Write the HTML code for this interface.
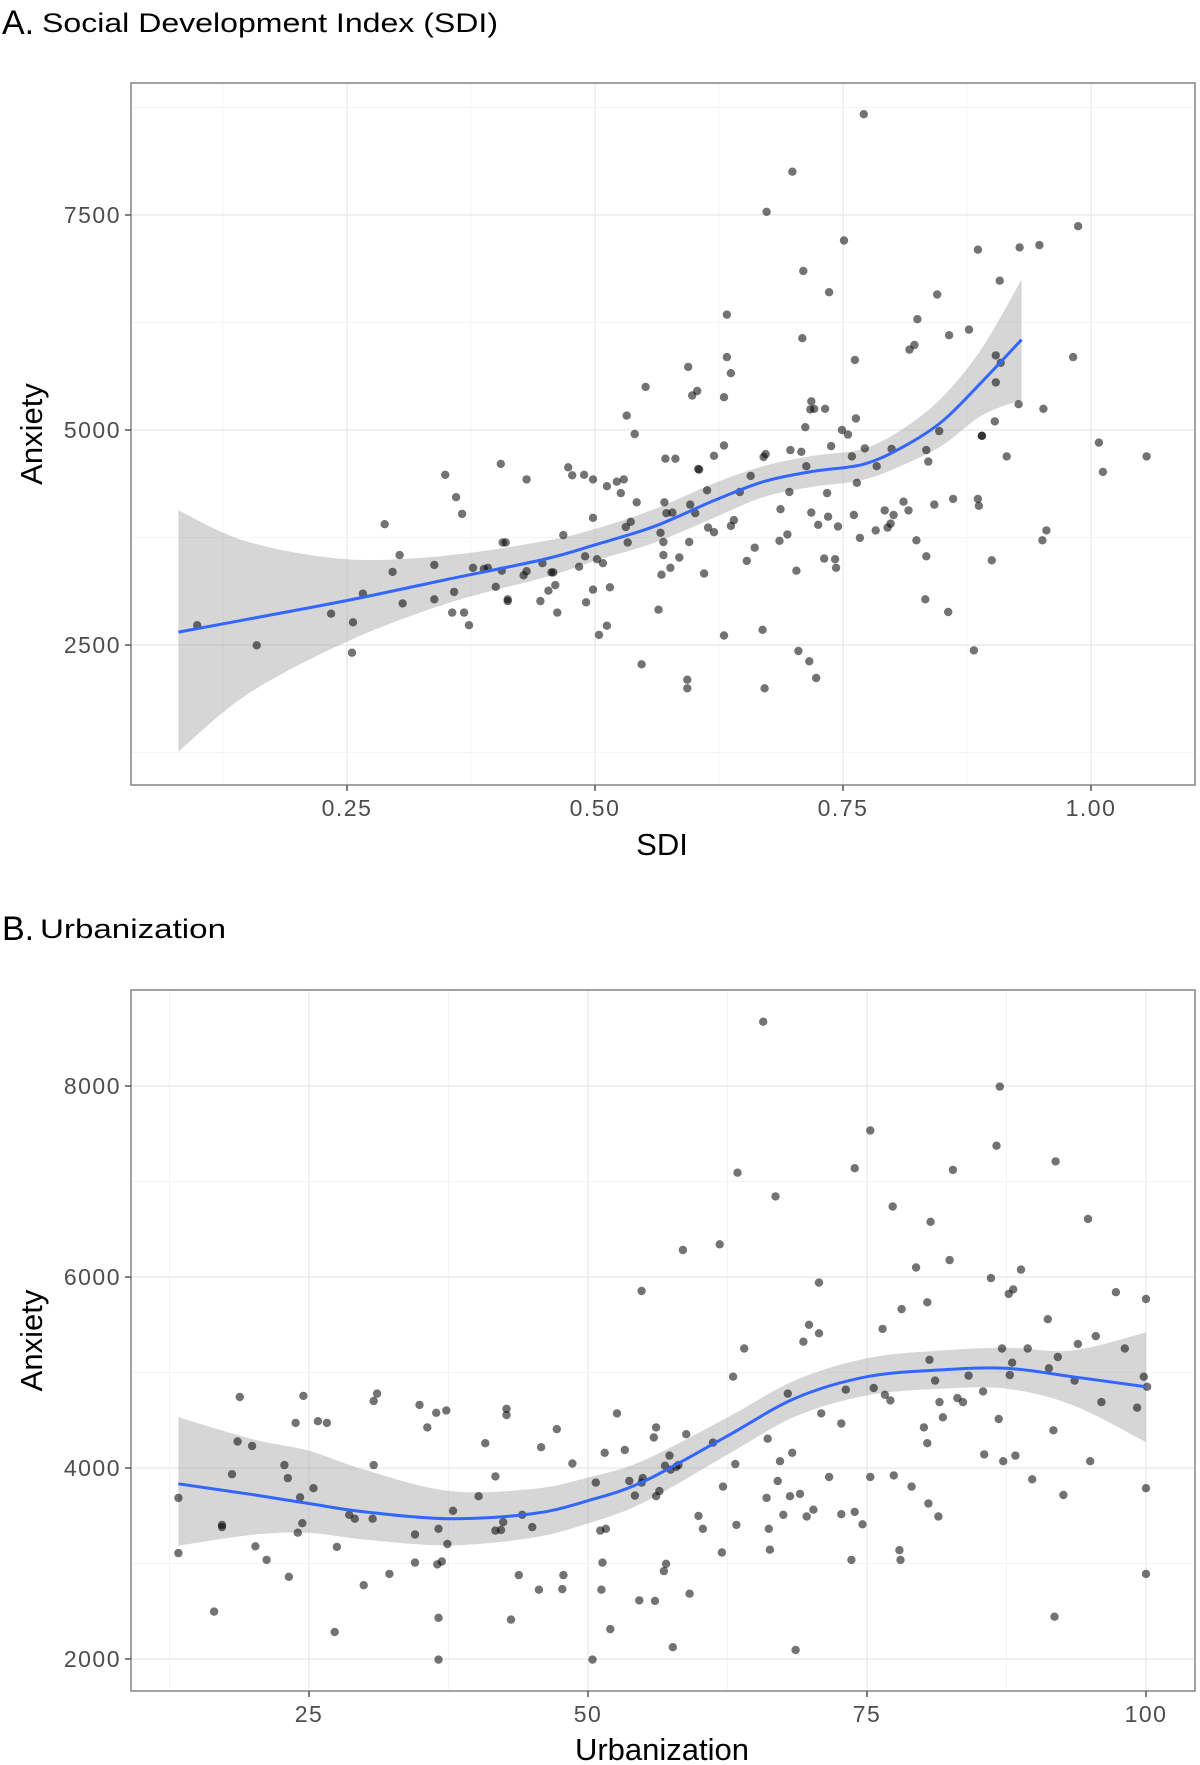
<!DOCTYPE html>
<html><head><meta charset="utf-8"><style>
html,body{margin:0;padding:0;background:#fff;}
svg{display:block;font-family:"Liberation Sans",sans-serif;}
</style></head><body>
<svg id="fig" width="1200" height="1765" viewBox="0 0 1200 1765">
<text x="2" y="34" font-size="34" fill="#000">A.</text>
<text x="42" y="32" font-size="27" fill="#000" textLength="456" lengthAdjust="spacingAndGlyphs">Social Development Index (SDI)</text>
<text x="2" y="940" font-size="34" fill="#000">B.</text>
<text x="40" y="938" font-size="27" fill="#000" textLength="186" lengthAdjust="spacingAndGlyphs">Urbanization</text>
<g id="pa"></g>
<g id="pb"></g>
</svg>
<script>
const sdiX=[0.099,0.159,0.234,0.255,0.256,0.266,0.288,0.296,0.303,0.306,0.338,0.338,0.349,0.356,0.358,0.360,0.366,0.368,0.373,0.377,0.388,0.392,0.400,0.405,0.406,0.407,0.410,0.412,0.412,0.428,0.431,0.431,0.445,0.447,0.453,0.456,0.458,0.460,0.462,0.468,0.473,0.477,0.484,0.489,0.490,0.491,0.498,0.498,0.498,0.502,0.504,0.508,0.512,0.512,0.515,0.522,0.526,0.529,0.531,0.532,0.533,0.536,0.540,0.542,0.547,0.551,0.564,0.566,0.567,0.569,0.569,0.570,0.571,0.572,0.576,0.578,0.581,0.585,0.593,0.593,0.594,0.595,0.596,0.598,0.601,0.603,0.604,0.605,0.610,0.613,0.614,0.620,0.620,0.630,0.630,0.630,0.633,0.633,0.637,0.637,0.640,0.646,0.653,0.657,0.661,0.669,0.670,0.671,0.672,0.673,0.686,0.687,0.694,0.696,0.697,0.699,0.703,0.705,0.708,0.709,0.710,0.712,0.713,0.716,0.717,0.718,0.718,0.721,0.723,0.725,0.731,0.732,0.734,0.735,0.736,0.738,0.742,0.743,0.745,0.749,0.751,0.755,0.759,0.761,0.762,0.763,0.764,0.767,0.771,0.772,0.783,0.784,0.792,0.795,0.798,0.799,0.801,0.811,0.816,0.817,0.822,0.825,0.824,0.833,0.834,0.834,0.836,0.842,0.845,0.847,0.856,0.857,0.861,0.877,0.882,0.886,0.886,0.887,0.890,0.890,0.900,0.903,0.904,0.904,0.908,0.909,0.915,0.927,0.928,0.948,0.951,0.952,0.955,0.982,0.987,1.008,1.012,1.056];
const sdiY=[2730,2497,2864,2410,2764,3097,3905,3350,3545,2984,3431,3031,4479,2877,3117,4219,4025,2877,2730,3398,3384,3398,3177,4606,3364,3692,3692,3011,3031,3311,3358,4426,3011,3451,3131,3344,3344,3197,2877,3778,4566,4473,3411,4479,3531,2997,4426,3979,3144,3498,2617,3451,4346,2724,3171,4399,4266,4426,3872,5167,3692,3932,4953,4159,2276,5501,2910,3805,3318,3545,3698,4159,4666,4032,3398,4039,4666,3518,2096,1996,5734,3698,4132,5401,4032,5454,4546,4539,3331,4299,3865,3812,4700,2610,5381,4820,5848,6342,3885,5661,3952,4279,3478,4466,3631,2677,4686,1996,4720,7537,3712,4079,3785,4279,4766,8004,3364,2430,4746,6068,6849,5033,4579,2310,5240,4039,5334,5247,2116,3898,3505,5247,4266,3992,6602,4813,3498,3398,3878,5000,7203,4947,4693,4012,5814,5134,4386,3745,8672,4786,3832,4579,4065,3865,3912,4780,4012,4166,4065,5935,5988,6288,3718,3031,4766,3531,4633,4132,6576,4987,2884,6102,4199,6168,2437,7096,4199,4119,4933,4933,3485,5100,5554,5868,6736,5781,4693,5300,7123,7150,3718,5247,3832,5848,7370,4853,4513,4693];
const sdiFitX=[0.08,0.15,0.25,0.35,0.45,0.5,0.56,0.62,0.67,0.72,0.77,0.81,0.85,0.89,0.93];
const sdiFit=[2650,2800,3017,3260,3500,3665,3880,4180,4400,4520,4600,4800,5100,5560,6050];
const sdiHi=[4065,3700,3498,3540,3710,3850,4080,4380,4580,4700,4780,5010,5380,5950,6750];
const sdiLo=[1261,1930,2540,2980,3290,3480,3690,3980,4220,4340,4420,4590,4820,5170,5350];
const sdiXTicks=[0.25,0.50,0.75,1.00];
const sdiXTickLabels=["0.25","0.50","0.75","1.00"];
const sdiYTicks=[2500,5000,7500];
const sdiYTickLabels=["2500","5000","7500"];

const urbX=[13.3,13.3,16.5,17.2,17.2,18.1,18.6,18.8,19.9,20.2,21.2,22.8,23.1,23.2,23.8,24.0,24.2,24.4,24.5,25.4,25.8,26.6,27.3,27.5,28.6,29.1,29.9,30.7,30.8,30.8,31.1,32.2,34.5,34.5,34.9,35.6,36.4,36.6,36.5,36.6,36.6,36.9,37.3,37.4,37.9,40.2,40.8,41.7,41.7,42.2,42.4,42.7,42.7,43.1,43.8,44.1,45.0,45.6,45.8,47.2,47.7,47.8,48.6,50.4,50.7,51.1,51.2,51.3,51.5,51.6,52.0,52.6,53.3,53.7,54.2,54.6,54.8,54.8,54.9,55.9,56.0,56.1,56.1,56.4,56.8,56.9,57.0,57.3,57.4,57.6,57.9,58.1,58.5,58.8,59.1,59.9,60.3,61.2,61.8,62.0,62.1,63.0,63.2,63.3,63.4,64.0,66.0,66.1,66.2,66.3,65.7,66.8,67.0,67.2,67.5,67.9,68.1,68.3,68.6,69.0,69.3,69.6,69.8,70.2,70.7,70.7,70.9,71.6,72.7,72.7,73.1,73.6,73.9,73.9,74.6,75.3,75.3,75.6,76.4,76.6,77.1,77.3,77.4,77.9,78.0,78.1,79.0,79.4,80.1,80.4,80.4,80.5,80.6,80.7,81.1,81.4,81.5,81.8,82.4,82.7,83.1,83.6,84.1,85.4,85.5,86.1,86.6,86.8,86.9,87.1,87.2,87.7,87.8,88.0,88.1,88.3,88.8,89.4,89.8,91.2,91.3,91.7,91.8,91.9,92.1,92.6,93.6,93.9,94.8,95.0,95.5,96.0,97.3,98.1,99.2,99.8,100,100,100,100.1];
const urbY=[3687,3109,2496,3404,3381,3935,4277,4743,4230,3180,3038,4030,3894,2861,4472,3322,3693,3422,4755,3788,4490,4472,2283,3174,3510,3469,2773,3469,4030,4702,4779,2891,3304,3009,4661,4425,4578,3363,2991,2431,1994,3021,4602,3204,3552,3705,4260,3345,3912,3351,3434,4620,4555,2413,2879,3510,3381,2726,4218,4407,2732,2879,4047,1994,3847,3345,2726,3009,4159,3363,2313,4572,4189,3864,3711,2614,3847,5853,3894,4319,2608,4425,3705,3758,2920,4024,2997,4130,3982,2124,4012,4030,6283,4354,2684,3498,3363,4266,6342,3115,3805,4956,4041,3404,7092,5251,3687,4307,3363,3145,8673,6844,3864,4071,3510,4779,3705,4159,2094,3729,5322,3492,5499,3563,5410,5941,4572,3906,4466,3516,4820,3038,7139,3540,3410,7534,3906,4838,5457,4767,4708,6738,3923,3139,3038,5664,3805,6100,4425,5735,4260,3628,5133,6578,4915,3492,4690,4531,6177,7121,4732,4690,4968,4802,4142,5988,7375,4513,7994,5251,4071,5823,4974,5103,5870,4130,6077,5251,3882,5558,5044,4395,2443,7210,5162,3717,4915,5298,6608,4071,5381,4690,5841,5251,4631,4956,5770,3788,2891,4850];
const urbFitX=[13.3,20,25,30,37.5,45,50,55,62.5,68.6,75,81.6,87.5,93.4,100];
const urbFit=[3835,3720,3628,3540,3469,3520,3658,3860,4336,4732,4956,5027,5044,4956,4850];
const urbHi=[4531,4300,4180,3980,3760,3780,3900,4080,4530,4920,5150,5230,5260,5230,5420];
const urbLo=[3186,3300,3320,3250,3190,3270,3420,3640,4140,4540,4760,4830,4830,4660,4270];
const urbXTicks=[25,50,75,100];
const urbXTickLabels=["25","50","75","100"];
const urbYTicks=[2000,4000,6000,8000];
const urbYTickLabels=["2000","4000","6000","8000"];

const NS="http://www.w3.org/2000/svg";
function mk(parent,tag,attrs){const e=document.createElementNS(NS,tag);for(const k in attrs)e.setAttribute(k,attrs[k]);parent.appendChild(e);return e;}
function curve(pts,start){
  let d=(start?'M':'L')+pts[0][0].toFixed(1)+','+pts[0][1].toFixed(1);
  for(let i=0;i<pts.length-1;i++){const p0=pts[Math.max(0,i-1)],p1=pts[i],p2=pts[i+1],p3=pts[Math.min(pts.length-1,i+2)];
    d+='C'+(p1[0]+(p2[0]-p0[0])/6).toFixed(1)+','+(p1[1]+(p2[1]-p0[1])/6).toFixed(1)+' '+(p2[0]-(p3[0]-p1[0])/6).toFixed(1)+','+(p2[1]-(p3[1]-p1[1])/6).toFixed(1)+' '+p2[0].toFixed(1)+','+p2[1].toFixed(1);}
  return d;
}

function drawPanel(g,cfg){
  const L=131,R=1195,T=cfg.top,B=cfg.bottom;
  const sx=v=>cfg.px0+(v-cfg.vx0)*(cfg.px1-cfg.px0)/(cfg.vx1-cfg.vx0);
  const sy=v=>cfg.py0+(v-cfg.vy0)*(cfg.py1-cfg.py0)/(cfg.vy1-cfg.vy0);
  const bg=mk(g,'rect',{x:L,y:T,width:R-L,height:B-T,fill:'#fff'});
  
  
  const gx=cfg.xTicks, gy=cfg.yTicks;
  const dx=gx[1]-gx[0], dy=gy[1]-gy[0];
  for(let v=gx[0]-dx/2; ;v+=dx/2){const p=sx(v); if(p>R)break; if(p<L)continue;
    const major=Math.abs(((v-gx[0])/dx)-Math.round((v-gx[0])/dx))<1e-6;
    const ln=mk(g,'line',{x1:p,x2:p,y1:T,y2:B,stroke:major?'#ebebeb':'#f4f4f4','stroke-width':major?1.4:1});
    
    }
  for(let v=gy[0]-dy/2; ;v+=dy/2){const p=sy(v); if(p<T)break; if(p>B)continue;
    const major=Math.abs(((v-gy[0])/dy)-Math.round((v-gy[0])/dy))<1e-6;
    const ln=mk(g,'line',{x1:L,x2:R,y1:p,y2:p,stroke:major?'#ebebeb':'#f4f4f4','stroke-width':major?1.4:1});
    
    }
  const hiPts=cfg.fitX.map((x,i)=>[sx(x),sy(cfg.hi[i])]);
  const loPts=cfg.fitX.map((x,i)=>[sx(x),sy(cfg.lo[i])]).reverse();
  const band=mk(g,'path',{d:curve(hiPts,true)+curve(loPts,false)+'Z',fill:'#999','fill-opacity':0.4});
  
  
  cfg.x.forEach((x,i)=>{
    const c=mk(g,'circle',{cx:sx(x).toFixed(1),cy:sy(cfg.y[i]).toFixed(1),r:4.2,fill:'#000','fill-opacity':0.55});
    
    
  });
  const pts=cfg.fitX.map((x,i)=>[sx(x),sy(cfg.fit[i])]);
  const line=mk(g,'path',{d:curve(pts,true),fill:'none',stroke:'#3366FF','stroke-width':3});
  
  
  const fr=mk(g,'rect',{x:L,y:T,width:R-L,height:B-T,fill:'none',stroke:'#8c8c8c','stroke-width':1.6});
  
  
  cfg.xTicks.forEach((v,i)=>{const p=sx(v);
    const t=mk(g,'line',{x1:p,x2:p,y1:B,y2:B+6,stroke:'#555','stroke-width':1.5});
    
    
    const tx=mk(g,'text',{x:p,y:B+31,'font-size':23,fill:'#4d4d4d','text-anchor':'middle','letter-spacing':1.5});
    tx.textContent=cfg.xLabels[i];
    
    });
  cfg.yTicks.forEach((v,i)=>{const p=sy(v);
    const t=mk(g,'line',{x1:L-6,x2:L,y1:p,y2:p,stroke:'#555','stroke-width':1.5});
    
    
    const tx=mk(g,'text',{x:L-10,y:p+8,'font-size':23,fill:'#4d4d4d','text-anchor':'end','letter-spacing':1.5});
    tx.textContent=cfg.yLabels[i];
    
    });
  const xt=mk(g,'text',{x:662,y:cfg.xTitleY,'font-size':31,fill:'#000','text-anchor':'middle'});
  xt.textContent=cfg.xTitle;
  
  
  const cy=(T+B)/2;
  const yt=mk(g,'text',{x:0,y:0,'font-size':31,fill:'#000','text-anchor':'middle',transform:'translate(42,'+cy+') rotate(-90)'});
  yt.textContent='Anxiety';
  
  
}
drawPanel(document.getElementById('pa'),{pfx:'sdi',top:83,bottom:785,
  px0:347,vx0:0.25,px1:1091,vx1:1.00,py0:645,vy0:2500,py1:215,vy1:7500,
  x:sdiX,y:sdiY,fitX:sdiFitX,fit:sdiFit,hi:sdiHi,lo:sdiLo,
  xTicks:sdiXTicks,xLabels:sdiXTickLabels,yTicks:sdiYTicks,yLabels:sdiYTickLabels,xTitle:'SDI',xTitleY:855});
drawPanel(document.getElementById('pb'),{pfx:'urb',top:990,bottom:1691,
  px0:309,vx0:25,px1:1146,vx1:100,py0:1659,vy0:2000,py1:1086,vy1:8000,
  x:urbX,y:urbY,fitX:urbFitX,fit:urbFit,hi:urbHi,lo:urbLo,
  xTicks:urbXTicks,xLabels:urbXTickLabels,yTicks:urbYTicks,yLabels:urbYTickLabels,xTitle:'Urbanization',xTitleY:1760});
</script>
</body></html>
